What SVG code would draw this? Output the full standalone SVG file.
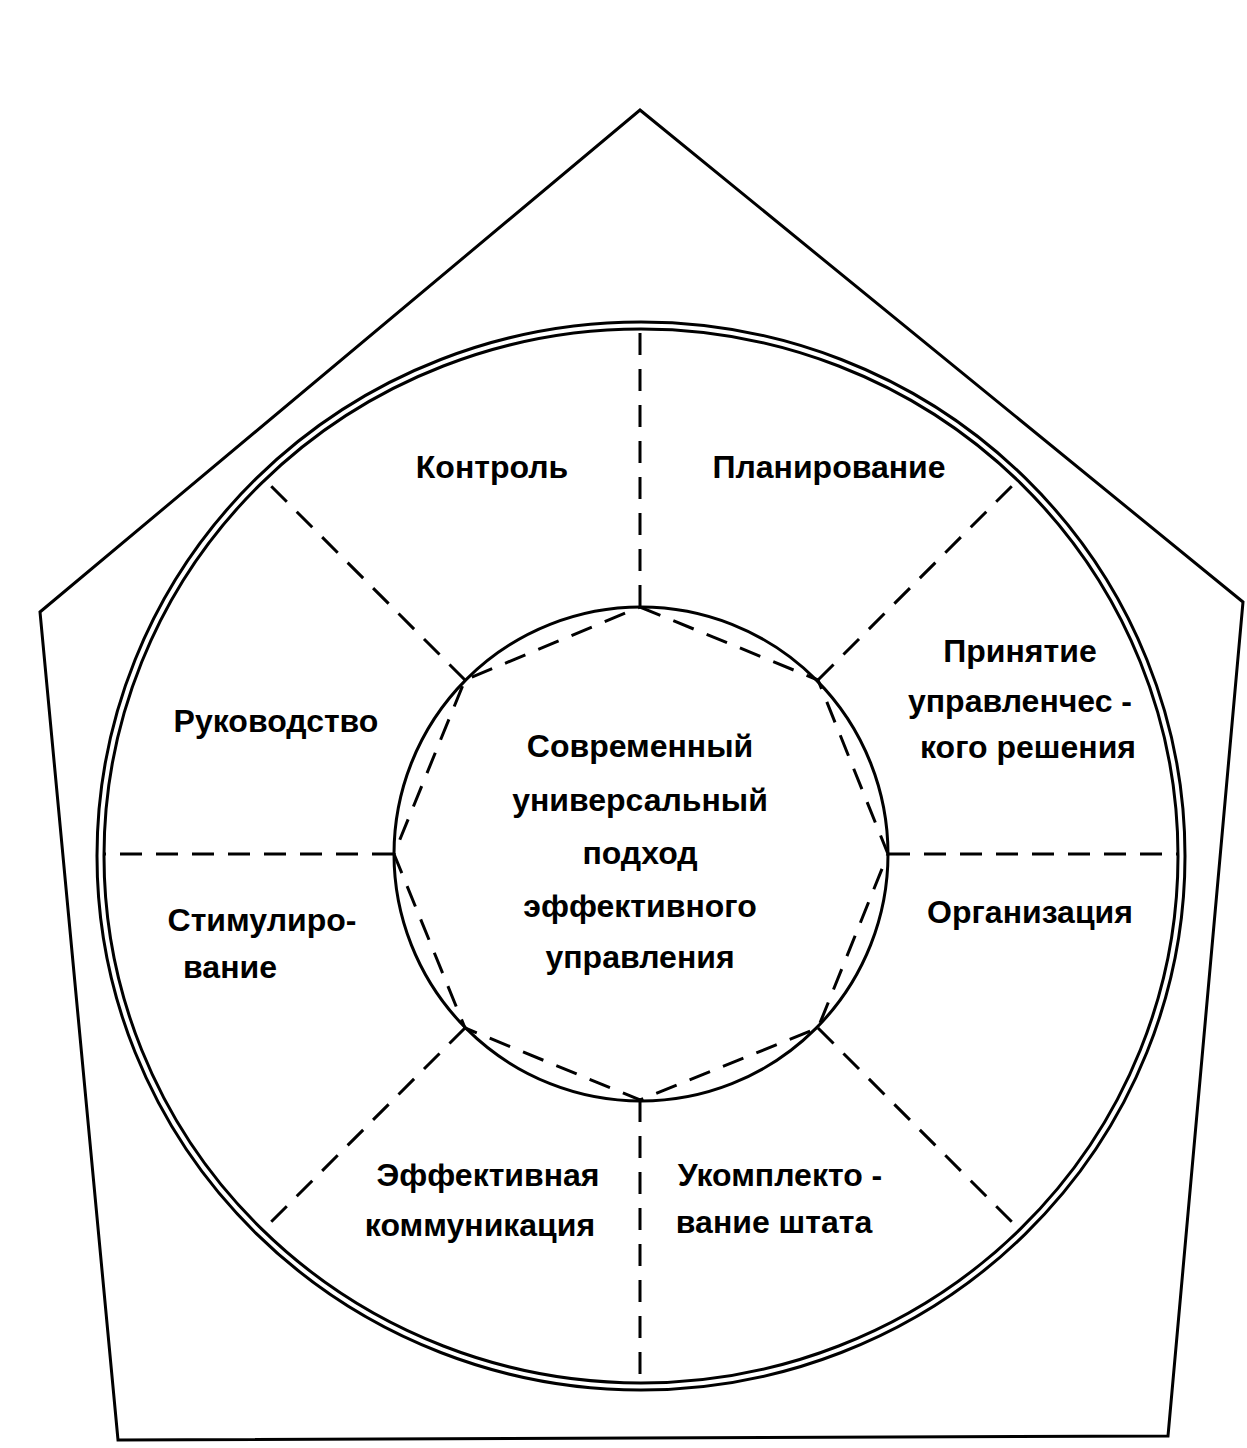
<svg xmlns="http://www.w3.org/2000/svg" width="1247" height="1448" viewBox="0 0 1247 1448">
<style>
.s{fill:none;stroke:#000;stroke-width:3}
.d{fill:none;stroke:#000;stroke-width:3;stroke-dasharray:22 14}
text{font-family:"Liberation Sans",Arial,sans-serif;font-size:32px;font-weight:bold;fill:#000;text-anchor:middle}
</style>
<rect width="1247" height="1448" fill="#fff"/>
<g id="pentagon"><polygon class="s" points="640,110 1243,602 1168,1436 118,1440 40,612"/></g>
<g id="outer-circle"><ellipse class="s" cx="641" cy="856" rx="544" ry="534"/><ellipse class="s" cx="641" cy="856" rx="537" ry="527"/></g>
<g id="inner-circle"><ellipse class="s" cx="641" cy="854" rx="247" ry="247"/></g>
<g id="connectors">
<polygon class="d" points="640,607 818,680 888,854 818,1028 640,1100 465,1028 394,854 465,680"/>
<line class="d" x1="640" y1="607" x2="640" y2="330"/>
<line class="d" x1="818" y1="680" x2="1018" y2="480"/>
<line class="d" x1="888" y1="854" x2="1178" y2="854"/>
<line class="d" x1="818" y1="1028" x2="1018" y2="1228"/>
<line class="d" x1="640" y1="1100" x2="640" y2="1382"/>
<line class="d" x1="465" y1="1028" x2="265" y2="1228"/>
<line class="d" x1="394" y1="854" x2="105" y2="854"/>
<line class="d" x1="465" y1="680" x2="265" y2="480"/>
</g>
<g id="center"><text x="640" y="757">Современный</text><text x="640" y="811">универсальный</text><text x="640" y="864">подход</text><text x="640" y="917">эффективного</text><text x="640" y="968">управления</text></g>
<g id="kontrol"><text x="492" y="478">Контроль</text></g>
<g id="plan"><text x="829" y="478">Планирование</text></g>
<g id="prinyatie"><text x="1020" y="662">Принятие</text><text x="1020" y="712">управленчес -</text><text x="1028" y="758">кого решения</text></g>
<g id="organizaciya"><text x="1030" y="923">Организация</text></g>
<g id="ukompl"><text x="780" y="1186">Укомплекто -</text><text x="774" y="1233">вание штата</text></g>
<g id="effkom"><text x="488" y="1186">Эффективная</text><text x="480" y="1236">коммуникация</text></g>
<g id="stim"><text x="262" y="931">Стимулиро-</text><text x="230" y="978">вание</text></g>
<g id="ruk"><text x="276" y="732">Руководство</text></g>
</svg>
